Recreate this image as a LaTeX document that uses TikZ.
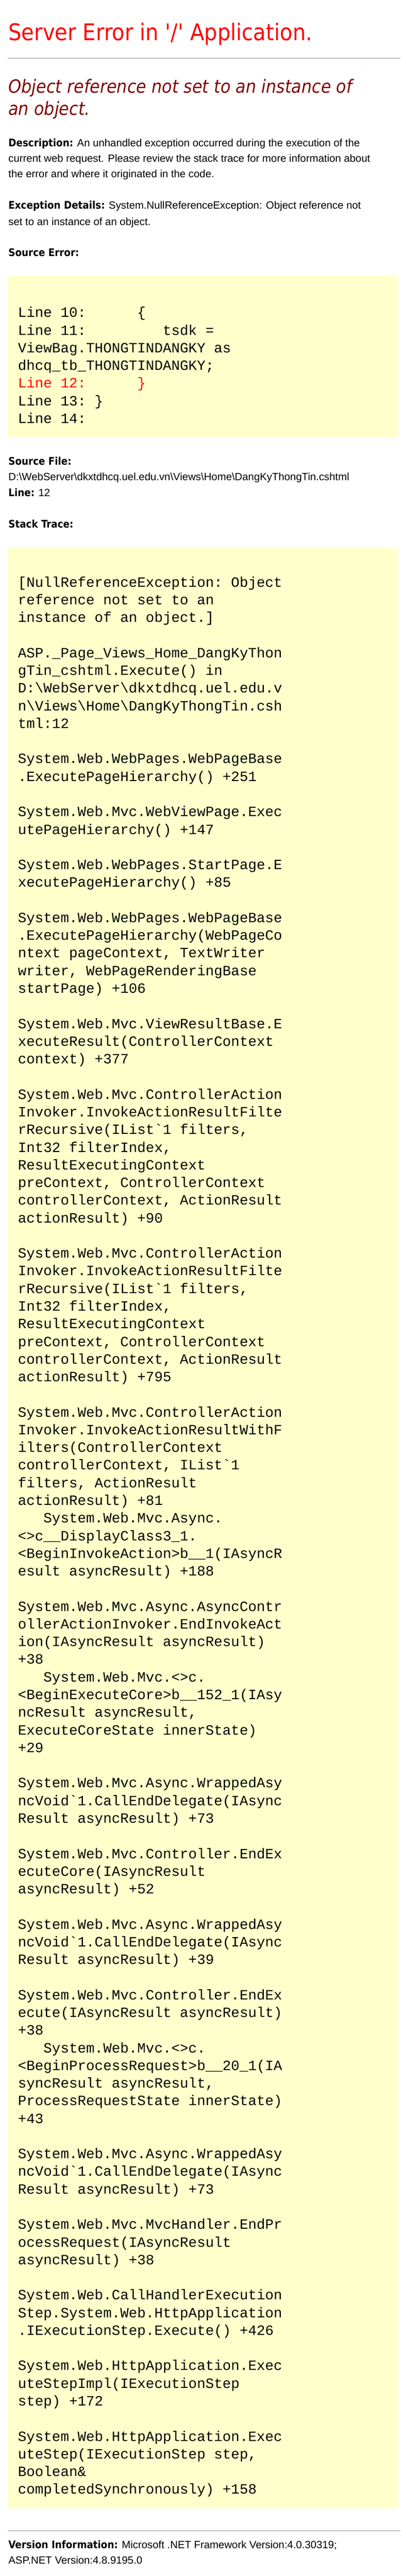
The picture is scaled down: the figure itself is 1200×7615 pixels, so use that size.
\documentclass[tikz,border=0pt]{standalone}
\usepackage{fontspec}
\setmainfont{Liberation Sans}
\setmonofont{Liberation Mono}
\newfontfamily\headfont{DejaVu Sans Condensed}
\newfontfamily\lblfont{DejaVu Sans Condensed}[UprightFont=* Bold]
\definecolor{pagered}{HTML}{FF0000}
\definecolor{darkred}{HTML}{800000}
\definecolor{boxyellow}{HTML}{FFFFCC}
\definecolor{rulegray}{HTML}{C0C0C0}
\newcommand\spc[1]{\hspace*{#1\dimexpr 0.6em\relax}}
\newcommand\bs{\textbackslash}
\tikzset{
  txt/.style={anchor=base west, inner sep=0pt, outer sep=0pt},
  title/.style={txt, text=pagered, font=\headfont\fontsize{68}{80}\selectfont},
  subtitle/.style={txt, text=darkred, font=\headfont\itshape\fontsize{54}{66}\selectfont},
  body/.style={txt, font=\fontsize{31}{46}\selectfont},
  code/.style={txt, font=\ttfamily\fontsize{42}{52.2}\selectfont},
  codebox/.style={fill=boxyellow, draw=none},
  hrule/.style={draw=rulegray, line width=3pt},
}
\newcommand\lbl[1]{{\lblfont\fontsize{31}{40}\selectfont #1}}
\newcommand\stk[2]{\node[code] (L#1) at (53,{1735+(#1-1)*52.2}) {#2};}
\newcommand\srcl[3][black]{\node[code,text=#1] (S#2) at (53,{938+(#2-1)*52.2}) {#3};}
\begin{document}
\begin{tikzpicture}[x=1pt,y=-1pt]
\path[use as bounding box, fill=white] (0,0) rectangle (1200,7615);
\node[title] (t) at (25,120) {Server Error in '/' Application.};
\coordinate (r1a) at (23,172); \coordinate (r1b) at (1183,172);
\draw[hrule] (r1a) -- (r1b);
\node[subtitle] (s1) at (25,275) {Object reference not set to an instance of};
\node[subtitle] (s2) at (25,341) {an object.};
\node[body] (d1) at (25,433) {\lbl{Description:} An unhandled exception occurred during the execution of the};
\node[body] (d2) at (25,479) {current web request. Please review the stack trace for more information about};
\node[body] (d3) at (25,525) {the error and where it originated in the code.};
\node[body] (e1) at (25,617) {\lbl{Exception Details:} System.NullReferenceException: Object reference not};
\node[body] (e2) at (25,666) {set to an instance of an object.};
\node[body] (se) at (25,758) {\lbl{Source Error:}};
\path[codebox] (23,815) rectangle (1177,1292);
\srcl{1}{Line 10:\spc{6}\{}
\srcl{2}{Line 11:\spc{9}tsdk =}
\srcl{3}{ViewBag.THONGTINDANGKY as}
\srcl{4}{dhcq\_tb\_THONGTINDANGKY;}
\srcl[pagered]{5}{Line 12:\spc{6}\}}
\srcl{6}{Line 13: \}}
\srcl{7}{Line 14:}
\node[body] (sf) at (25,1375) {\lbl{Source File:}};
\node[body] (sfp) at (25,1420) {D:\bs WebServer\bs dkxtdhcq.uel.edu.vn\bs Views\bs Home\bs DangKyThongTin.cshtml};
\node[body] (ln) at (25,1468) {\lbl{Line:} 12};
\node[body] (st) at (25,1560) {\lbl{Stack Trace:}};
\path[codebox] (23,1617) rectangle (1177,7416);
\stk{1}{[NullReferenceException: Object}
\stk{2}{reference not set to an}
\stk{3}{instance of an object.]}
\stk{5}{ASP.\_Page\_Views\_Home\_DangKyThon}
\stk{6}{gTin\_cshtml.Execute() in}
\stk{7}{D:\bs WebServer\bs dkxtdhcq.uel.edu.v}
\stk{8}{n\bs Views\bs Home\bs DangKyThongTin.csh}
\stk{9}{tml:12}
\stk{11}{System.Web.WebPages.WebPageBase}
\stk{12}{.ExecutePageHierarchy() +251}
\stk{14}{System.Web.Mvc.WebViewPage.Exec}
\stk{15}{utePageHierarchy() +147}
\stk{17}{System.Web.WebPages.StartPage.E}
\stk{18}{xecutePageHierarchy() +85}
\stk{20}{System.Web.WebPages.WebPageBase}
\stk{21}{.ExecutePageHierarchy(WebPageCo}
\stk{22}{ntext pageContext, TextWriter}
\stk{23}{writer, WebPageRenderingBase}
\stk{24}{startPage) +106}
\stk{26}{System.Web.Mvc.ViewResultBase.E}
\stk{27}{xecuteResult(ControllerContext}
\stk{28}{context) +377}
\stk{30}{System.Web.Mvc.ControllerAction}
\stk{31}{Invoker.InvokeActionResultFilte}
\stk{32}{rRecursive(IList`1 filters,}
\stk{33}{Int32 filterIndex,}
\stk{34}{ResultExecutingContext}
\stk{35}{preContext, ControllerContext}
\stk{36}{controllerContext, ActionResult}
\stk{37}{actionResult) +90}
\stk{39}{System.Web.Mvc.ControllerAction}
\stk{40}{Invoker.InvokeActionResultFilte}
\stk{41}{rRecursive(IList`1 filters,}
\stk{42}{Int32 filterIndex,}
\stk{43}{ResultExecutingContext}
\stk{44}{preContext, ControllerContext}
\stk{45}{controllerContext, ActionResult}
\stk{46}{actionResult) +795}
\stk{48}{System.Web.Mvc.ControllerAction}
\stk{49}{Invoker.InvokeActionResultWithF}
\stk{50}{ilters(ControllerContext}
\stk{51}{controllerContext, IList`1}
\stk{52}{filters, ActionResult}
\stk{53}{actionResult) +81}
\stk{54}{\spc{3}System.Web.Mvc.Async.}
\stk{55}{<>c\_\_DisplayClass3\_1.}
\stk{56}{<BeginInvokeAction>b\_\_1(IAsyncR}
\stk{57}{esult asyncResult) +188}
\stk{59}{System.Web.Mvc.Async.AsyncContr}
\stk{60}{ollerActionInvoker.EndInvokeAct}
\stk{61}{ion(IAsyncResult asyncResult)}
\stk{62}{+38}
\stk{63}{\spc{3}System.Web.Mvc.<>c.}
\stk{64}{<BeginExecuteCore>b\_\_152\_1(IAsy}
\stk{65}{ncResult asyncResult,}
\stk{66}{ExecuteCoreState innerState)}
\stk{67}{+29}
\stk{69}{System.Web.Mvc.Async.WrappedAsy}
\stk{70}{ncVoid`1.CallEndDelegate(IAsync}
\stk{71}{Result asyncResult) +73}
\stk{73}{System.Web.Mvc.Controller.EndEx}
\stk{74}{ecuteCore(IAsyncResult}
\stk{75}{asyncResult) +52}
\stk{77}{System.Web.Mvc.Async.WrappedAsy}
\stk{78}{ncVoid`1.CallEndDelegate(IAsync}
\stk{79}{Result asyncResult) +39}
\stk{81}{System.Web.Mvc.Controller.EndEx}
\stk{82}{ecute(IAsyncResult asyncResult)}
\stk{83}{+38}
\stk{84}{\spc{3}System.Web.Mvc.<>c.}
\stk{85}{<BeginProcessRequest>b\_\_20\_1(IA}
\stk{86}{syncResult asyncResult,}
\stk{87}{ProcessRequestState innerState)}
\stk{88}{+43}
\stk{90}{System.Web.Mvc.Async.WrappedAsy}
\stk{91}{ncVoid`1.CallEndDelegate(IAsync}
\stk{92}{Result asyncResult) +73}
\stk{94}{System.Web.Mvc.MvcHandler.EndPr}
\stk{95}{ocessRequest(IAsyncResult}
\stk{96}{asyncResult) +38}
\stk{98}{System.Web.CallHandlerExecution}
\stk{99}{Step.System.Web.HttpApplication}
\stk{100}{.IExecutionStep.Execute() +426}
\stk{102}{System.Web.HttpApplication.Exec}
\stk{103}{uteStepImpl(IExecutionStep}
\stk{104}{step) +172}
\stk{106}{System.Web.HttpApplication.Exec}
\stk{107}{uteStep(IExecutionStep step,}
\stk{108}{Boolean\&}
\stk{109}{completedSynchronously) +158}
\coordinate (r2a) at (23,7481); \coordinate (r2b) at (1183,7481);
\draw[hrule] (r2a) -- (r2b);
\node[body] (v1) at (25,7533) {\lbl{Version Information:} Microsoft .NET Framework Version:4.0.30319;};
\node[body] (v2) at (25,7579) {ASP.NET Version:4.8.9195.0};
\end{tikzpicture}
\end{document}
